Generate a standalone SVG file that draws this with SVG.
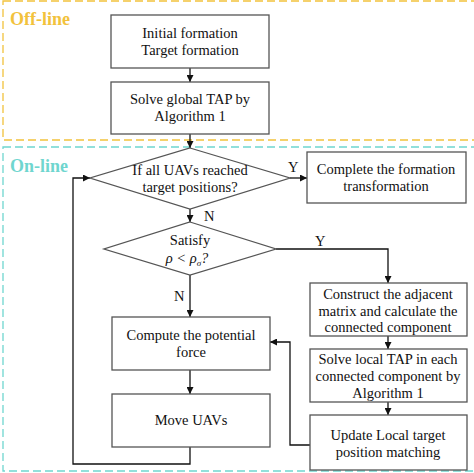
<svg xmlns="http://www.w3.org/2000/svg" width="474" height="473" viewBox="0 0 474 473">
<defs>
<marker id="ah" viewBox="0 0 10 10" refX="10" refY="5" markerWidth="7" markerHeight="7" markerUnits="userSpaceOnUse" orient="auto">
<path d="M0,0 L10,5 L0,10 z" fill="#111"/>
</marker>
<style>
.box{fill:#fff;stroke:#555;stroke-width:1.3}
.t{font-family:"Liberation Serif","Times New Roman",serif;font-size:14.5px;fill:#111;text-anchor:middle}
.lbl{font-family:"Liberation Serif","Times New Roman",serif;font-size:14.5px;fill:#111}
.c{fill:none;stroke:#111;stroke-width:1.3}
.reg{font-family:"Liberation Serif","Times New Roman",serif;font-size:18px;font-weight:bold}
</style>
</defs>
<rect width="474" height="473" fill="#fff"/>
<g id="offline">
<rect x="3" y="1" width="475" height="139" fill="none" stroke="#f2c23c" stroke-width="1.3" stroke-dasharray="8,4"/>
<text class="reg" x="10" y="25" fill="#f2c23c">Off-line</text>
</g>
<g id="online">
<rect x="3" y="147" width="475" height="324" fill="none" stroke="#6fd6cf" stroke-width="1.3" stroke-dasharray="8,4"/>
<text class="reg" x="10" y="172" fill="#6fd6cf">On-line</text>
</g>
<g id="connectors">
<line class="c" x1="190" y1="68" x2="190" y2="82" marker-end="url(#ah)"/>
<line class="c" x1="190" y1="134" x2="190" y2="148" marker-end="url(#ah)"/>
<line class="c" x1="290" y1="178" x2="307" y2="178" marker-end="url(#ah)"/>
<line class="c" x1="190" y1="209" x2="190" y2="222" marker-end="url(#ah)"/>
<polyline class="c" points="276,249 388,249 388,283" marker-end="url(#ah)"/>
<line class="c" x1="190" y1="275" x2="190" y2="317" marker-end="url(#ah)"/>
<line class="c" x1="388" y1="336" x2="388" y2="349" marker-end="url(#ah)"/>
<line class="c" x1="388" y1="402" x2="388" y2="415" marker-end="url(#ah)"/>
<polyline class="c" points="310,445 290,445 290,342 270,342" marker-end="url(#ah)"/>
<line class="c" x1="190" y1="370" x2="190" y2="394" marker-end="url(#ah)"/>
<polyline class="c" points="190,447 190,464 73,464 73,178 90,178" marker-end="url(#ah)"/>
<text class="lbl" x="288" y="172">Y</text>
<text class="lbl" x="204" y="221">N</text>
<text class="lbl" x="315" y="246">Y</text>
<text class="lbl" x="174" y="301">N</text>
</g>
<g id="n1">
<rect class="box" x="111" y="15" width="158" height="53"/>
<text class="t" x="190" y="38">Initial formation</text>
<text class="t" x="190" y="55">Target formation</text>
</g>
<g id="n2">
<rect class="box" x="111" y="82" width="158" height="52"/>
<text class="t" x="190" y="104">Solve global TAP by</text>
<text class="t" x="190" y="121">Algorithm 1</text>
</g>
<g id="d1">
<polygon class="box" points="190,148 290,178 190,209 90,178"/>
<text class="t" x="190" y="175">If all UAVs reached</text>
<text class="t" x="190" y="192">target positions?</text>
</g>
<g id="n3">
<rect class="box" x="307" y="152" width="159" height="51"/>
<text class="t" x="386" y="174">Complete the formation</text>
<text class="t" x="386" y="191">transformation</text>
</g>
<g id="d2">
<polygon class="box" points="190,222 276,249 190,275 104,249"/>
<text class="t" x="190" y="245">Satisfy</text>
<text class="t" x="187" y="263" font-style="italic">ρ &lt; ρ<tspan font-size="9" dy="3">σ</tspan><tspan dy="-3">?</tspan></text>
</g>
<g id="n4">
<rect class="box" x="310" y="283" width="157" height="53"/>
<text class="t" x="388" y="299">Construct the adjacent</text>
<text class="t" x="388" y="316">matrix and calculate the</text>
<text class="t" x="388" y="332">connected component</text>
</g>
<g id="n5">
<rect class="box" x="310" y="349" width="157" height="53"/>
<text class="t" x="388" y="364">Solve local TAP in each</text>
<text class="t" x="388" y="381">connected component by</text>
<text class="t" x="388" y="398">Algorithm 1</text>
</g>
<g id="n6">
<rect class="box" x="310" y="415" width="157" height="55"/>
<text class="t" x="388" y="440">Update Local target</text>
<text class="t" x="388" y="457">position matching</text>
</g>
<g id="n7">
<rect class="box" x="112" y="317" width="158" height="53"/>
<text class="t" x="191" y="340">Compute the potential</text>
<text class="t" x="191" y="357">force</text>
</g>
<g id="n8">
<rect class="box" x="112" y="394" width="158" height="53"/>
<text class="t" x="191" y="425">Move UAVs</text>
</g>
</svg>
